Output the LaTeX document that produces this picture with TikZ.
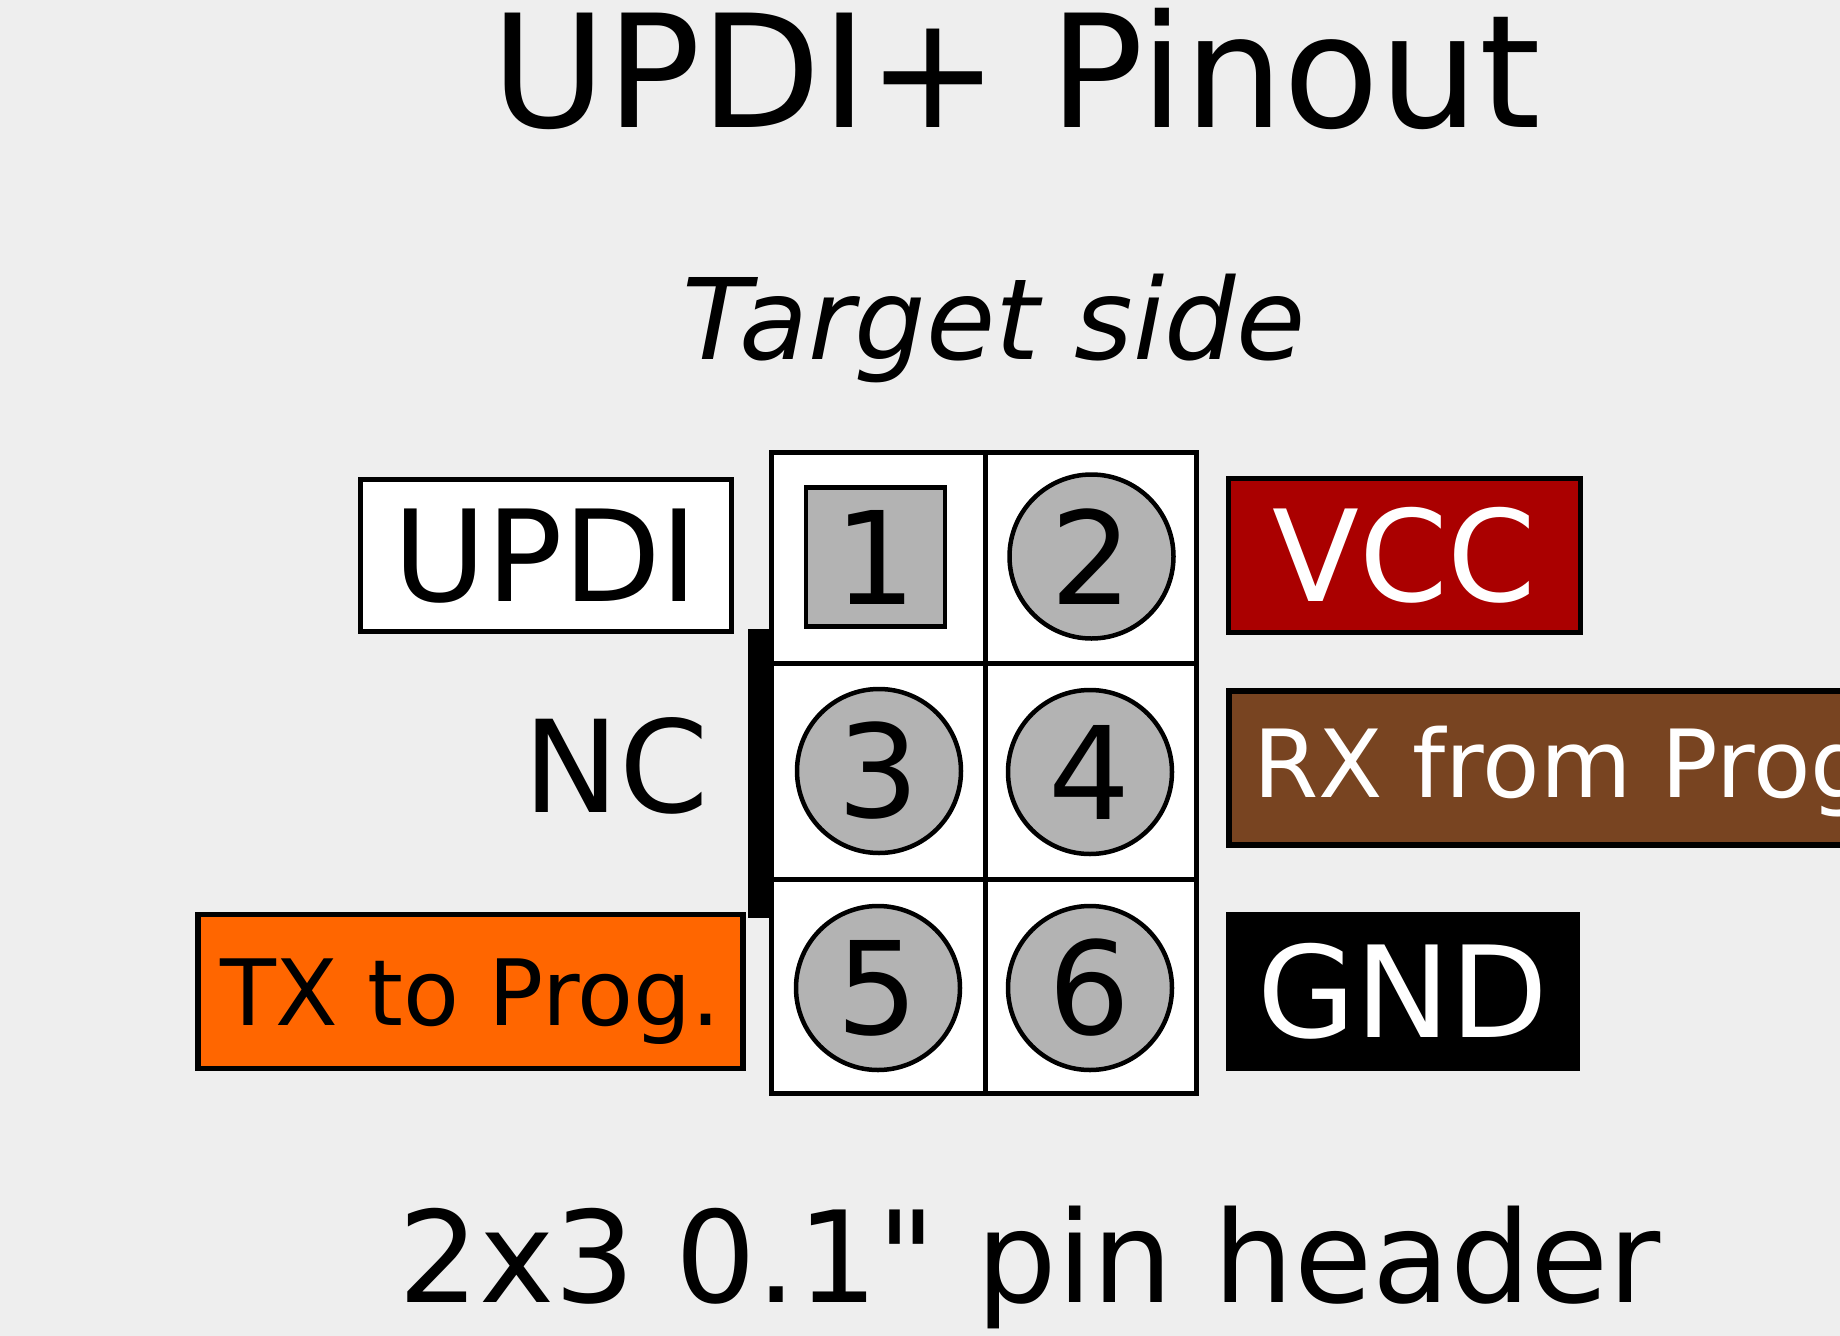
\documentclass[tikz,border=0pt]{standalone}
\usepackage{fontspec}
\setmainfont{DejaVu Sans}
\newfontfamily\plainfont{DejaVu Sans}
\definecolor{bgc}{HTML}{EEEEEE}
\definecolor{pingray}{HTML}{B3B3B3}
\definecolor{vccred}{HTML}{AA0000}
\definecolor{rxbrown}{HTML}{784421}
\definecolor{txorange}{HTML}{FF6600}
\begin{document}
\begin{tikzpicture}[x=1pt,y=-1pt,
  labelbox/.style={draw=black, line width=5.5pt, inner sep=0pt, outer sep=0pt,
    font=\fontsize{127pt}{130pt}\selectfont, text height=92pt, text depth=0pt},
  smallbox/.style={labelbox, font=\fontsize{91.5pt}{95pt}\selectfont, text height=67pt},
  pinsq/.style={draw=black, fill=pingray, line width=4.5pt, rectangle, minimum size=139pt,
    inner sep=0pt, font=\fontsize{129pt}{130pt}\selectfont},
  pinc/.style={draw=black, fill=pingray, line width=4.5pt, circle, minimum size=164pt,
    inner sep=0pt, font=\fontsize{129pt}{130pt}\selectfont},
  gridline/.style={draw=black, line width=5pt}
]
\useasboundingbox (0,0) rectangle (1840,1336);
\clip (0,0) rectangle (1840,1336);
\fill[bgc] (0,0) rectangle (1840,1336);

% titles
\node[anchor=base, inner sep=0pt, font=\fontsize{157pt}{160pt}\selectfont] (title) at (1016,127) {UPDI+ Pinout};
\node[anchor=base, inner sep=0pt, font=\fontsize{112.5pt}{115pt}\selectfont\itshape] (side) at (994,359) {Target side};
\node[anchor=base, inner sep=0pt, font=\plainfont\fontsize{127pt}{130pt}\selectfont] (foot) at (1030,1302) {2x3 0.1" pin header};

% header grid
\fill[white] (771.5,452.5) rectangle (1196.5,1093.5);
\draw[gridline] (771.5,452.5) rectangle (1196.5,1093.5);
\draw[gridline] (985,452.5) -- (985,1093.5);
\draw[gridline] (771.5,663) -- (1196.5,663);
\draw[gridline] (771.5,879) -- (1196.5,879);
\fill[black] (748,629) rectangle (771,918);

% pins
\node[pinsq] (p1) at (875.5,557) {1};
\node[pinc] (p2) at (1091.5,556.5) {2};
\node[pinc] (p3) at (879,771) {3};
\node[pinc] (p4) at (1090,772) {4};
\node[pinc] (p5) at (878,988) {5};
\node[pinc] (p6) at (1090,988) {6};

% labels
\node[labelbox, fill=white, minimum width=371pt, minimum height=152pt] (updi) at (546,555.5) {UPDI};
\node[anchor=base east, inner sep=0pt, font=\fontsize{128pt}{130pt}\selectfont] (nc) at (709,812) {NC};
\node[smallbox, fill=txorange, minimum width=545pt, minimum height=154pt] (tx) at (470.5,991.5) {TX to Prog.};
\node[labelbox, fill=vccred, text=white, minimum width=352pt, minimum height=154pt] (vcc) at (1404.5,555.5) {VCC};
\node[labelbox, fill=rxbrown, minimum width=800pt, minimum height=154pt] (rx) at (1629,768) {};
\node[anchor=base west, inner sep=0pt, text=white, font=\fontsize{94pt}{95pt}\selectfont] (rxt) at (1253,797) {RX from Prog.};
\node[labelbox, fill=black, text=white, minimum width=349pt, minimum height=154pt] (gnd) at (1403,991.5) {GND};
\end{tikzpicture}
\end{document}
